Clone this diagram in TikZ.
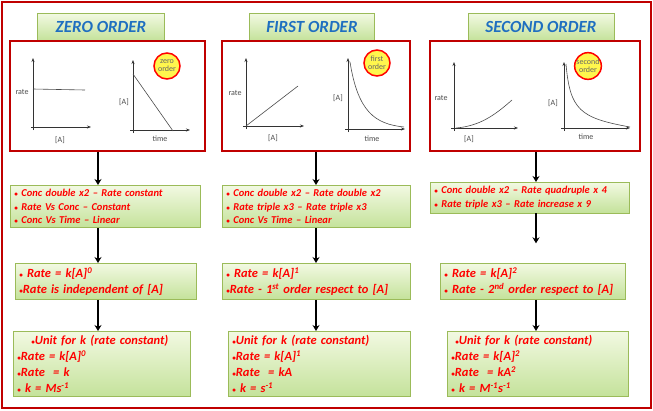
\documentclass[tikz,border=0pt]{standalone}
\usepackage{fontspec}
\setmainfont{Carlito}
\usetikzlibrary{arrows.meta}
\definecolor{dred}{HTML}{C00000}
\definecolor{gbord}{HTML}{9BBB59}
\definecolor{gtop}{HTML}{F2F9E2}
\definecolor{gbot}{HTML}{C4E29A}
\definecolor{tblue}{HTML}{1F6FC0}
\newcommand{\bul}{{\scriptsize\textbullet}}
\begin{document}
\begin{tikzpicture}[x=1pt,y=-1pt,
  gbox/.style={draw=gbord,line width=0.8pt,top color=gtop,bottom color=gbot},
  ttl/.style={gbox,font=\bfseries\itshape\fontsize{17}{17}\selectfont,text=tblue,inner sep=0pt},
  frame/.style={draw=dred,line width=1.8pt,fill=white},
  arr/.style={-{Stealth[length=6pt,width=7pt]},line width=1.6pt},
  ax/.style={-{Stealth[length=4pt,width=3pt]},line width=0.8pt,black!80},
  cv/.style={line width=0.6pt,black!70},
  gl/.style={font=\fontsize{8}{8}\selectfont,text=black!70},
  txt/.style={gbox,align=left,anchor=north west,text=red,font=\bfseries\itshape\fontsize{10.5}{13.5}\selectfont,inner sep=4pt},
  txtb/.style={gbox,align=left,anchor=north west,text=red,font=\bfseries\itshape\fontsize{12.5}{16}\selectfont,inner sep=4pt},
  tag/.style={fill=yellow!70,draw=red,line width=1.5pt,circle,inner sep=0pt,minimum size=26pt,align=center,font=\fontsize{8}{8}\selectfont,text=black!60}]
\useasboundingbox (0,0) rectangle (653,410);
\draw[draw=dred,line width=2pt] (2,2) rectangle (651,408);
% titles
\node[ttl,minimum width=127pt,minimum height=27pt] (t0) at (101,27) {ZERO ORDER};
\node[ttl,minimum width=125pt,minimum height=27pt] (t1) at (312,27) {FIRST ORDER};
\node[ttl,minimum width=146pt,minimum height=27pt] (t2) at (541,27) {SECOND ORDER};
% graph frames
\node[frame,minimum width=195pt,minimum height=110pt] (g0) at (107.5,96) {};
\node[frame,minimum width=188pt,minimum height=110pt] (g1) at (316,96) {};
\node[frame,minimum width=210pt,minimum height=110pt] (g2) at (535,96) {};
% zero graphs
\draw[ax] (31,127)--(91,127); \draw[ax] (33,130)--(33,58);
\draw[cv] (33,89)--(85,90);
\node[gl] at (22,92) {rate}; \node[gl] at (60,140) {[A]};
\draw[ax] (130,130)--(190,130); \draw[ax] (133,133)--(133,60);
\draw[cv] (133,74)--(173,131);
\node[gl] at (124,102) {[A]}; \node[gl] at (160,139) {time};
\node[tag] (z0) at (167,66) {zero\\order};
% first graphs
\draw[ax] (243,126)--(304,126); \draw[ax] (246,129)--(246,58);
\draw[cv] (246,126)--(298,86);
\node[gl] at (235,93) {rate}; \node[gl] at (273,138) {[A]};
\draw[ax] (345,129)--(405,129); \draw[ax] (348,132)--(348,58);
\draw[cv] (350,62) .. controls (358,112) and (375,124) .. (404,127);
\node[gl] at (338,98) {[A]}; \node[gl] at (372,139) {time};
\node[tag] (z1) at (377,63) {first\\order};
% second graphs
\draw[ax] (451,128)--(518,128); \draw[ax] (454,131)--(454,62);
\draw[cv] (456,128) .. controls (480,126) and (495,115) .. (512,100);
\node[gl] at (441,98) {rate}; \node[gl] at (469,139) {[A]};
\draw[ax] (561,128)--(630,128); \draw[ax] (564,131)--(564,62);
\draw[cv] (566,64) .. controls (570,110) and (580,118) .. (630,127);
\node[gl] at (553,103) {[A]}; \node[gl] at (586,137) {time};
\node[tag] (z2) at (588,66) {second\\order};
% level 1
\node[txt,text width=182pt] (a0) at (10,185) {\bul\ Conc double x2 – Rate constant\\ \bul\ Rate Vs Conc – Constant\\ \bul\ Conc Vs Time – Linear};
\node[txt,text width=180pt] (a1) at (222,185) {\bul\ Conc double x2 – Rate double x2\\ \bul\ Rate triple x3 – Rate triple x3\\ \bul\ Conc Vs Time – Linear};
\node[txt,text width=191pt] (a2) at (430,182) {\bul\ Conc double x2 – Rate quadruple x 4\\ \bul\ Rate triple x3 – Rate increase x 9};
% level 2
\node[txtb,text width=173pt] (b0) at (15,263) {\bul\ Rate = k[A]\textsuperscript{0}\\ \bul Rate is independent of [A]};
\node[txtb,text width=180pt] (b1) at (222,263) {\bul\ Rate = k[A]\textsuperscript{1}\\ \bul Rate - 1\textsuperscript{st} order respect to [A]};
\node[txtb,text width=177pt] (b2) at (440,263) {\bul\ Rate = k[A]\textsuperscript{2}\\ \bul\ Rate - 2\textsuperscript{nd} order respect to [A]};
% level 3
\node[txtb,text width=169pt] (c0) at (13,331) {\hspace*{14pt}\bul Unit for k (rate constant)\\ \bul Rate = k[A]\textsuperscript{0}\\ \bul Rate \ = k\\ \bul\ k = Ms\textsuperscript{-1}};
\node[txtb,text width=174pt] (c1) at (228,331) {\bul Unit for k (rate constant)\\ \bul Rate = k[A]\textsuperscript{1}\\ \bul Rate \ = kA\\ \bul\ k = s\textsuperscript{-1}};
\node[txtb,text width=173pt] (c2) at (447,331) {\hspace*{4pt}\bul Unit for k (rate constant)\\ \bul Rate = k[A]\textsuperscript{2}\\ \bul Rate \ = kA\textsuperscript{2}\\ \bul\ k = M\textsuperscript{-1}s\textsuperscript{-1}};
% arrows
\draw[arr] (g0.south -| 98,0) -- (a0.north -| 98,0);
\draw[arr] (g1.south -| 316,0) -- (a1.north -| 316,0);
\draw[arr] (g2.south -| 536,0) -- (a2.north -| 536,0);
\draw[arr] (a0.south -| 98,0) -- (b0.north -| 98,0);
\draw[arr] (a1.south -| 316,0) -- (b1.north -| 316,0);
\draw[arr] (a2.south -| 536,0) -- ++(0,30);
\draw[arr] (b0.south -| 98,0) -- (c0.north -| 98,0);
\draw[arr] (b1.south -| 316,0) -- (c1.north -| 316,0);
\draw[arr] (b2.south -| 536,0) -- (c2.north -| 536,0);
\end{tikzpicture}
\end{document}
